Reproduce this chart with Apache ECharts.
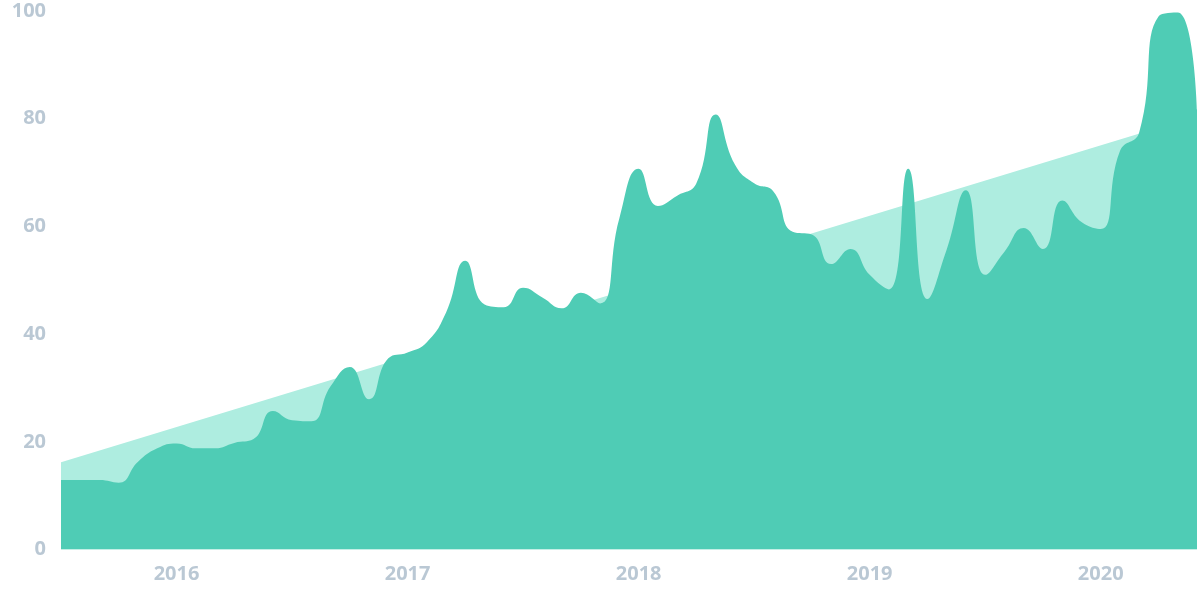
<!DOCTYPE html>
<html>
<head>
<meta charset="utf-8">
<style>
  html, body { margin: 0; padding: 0; background: #fff; }
  #box { width: 1200px; height: 600px; }
</style>
<script src="https://cdn.jsdelivr.net/npm/echarts@6/dist/echarts.min.js"></script>
</head>
<body>
<div id="box"></div>
<script>
  // monthly points, Jul 2015 .. Jun 2020
  const months = [
    '2015-07', '2015-08', '2015-09', '2015-10', '2015-11', '2015-12',
    '2016-01', '2016-02', '2016-03', '2016-04', '2016-05', '2016-06',
    '2016-07', '2016-08', '2016-09', '2016-10', '2016-11', '2016-12',
    '2017-01', '2017-02', '2017-03', '2017-04', '2017-05', '2017-06',
    '2017-07', '2017-08', '2017-09', '2017-10', '2017-11', '2017-12',
    '2018-01', '2018-02', '2018-03', '2018-04', '2018-05', '2018-06',
    '2018-07', '2018-08', '2018-09', '2018-10', '2018-11', '2018-12',
    '2019-01', '2019-02', '2019-03', '2019-04', '2019-05', '2019-06',
    '2019-07', '2019-08', '2019-09', '2019-10', '2019-11', '2019-12',
    '2020-01', '2020-02', '2020-03', '2020-04', '2020-05', '2020-06',
  ];

  const values = [
    12.9, 12.9, 12.9, 12.4, 16.3, 18.8,
    19.7, 18.8, 18.8, 19.8, 20.5, 25.7,
    24.0, 23.8, 30.3, 33.9, 27.9, 35.5,
    36.6, 38.5, 44.0, 53.6, 45.5, 45.0,
    48.6, 46.8, 44.8, 47.7, 45.7, 61.5,
    70.7, 63.8, 65.7, 68.0, 80.8, 71.5,
    68.0, 66.5, 59.0, 58.5, 53.0, 55.8,
    51.0, 48.3, 70.7, 46.5, 55.7, 66.7,
    51.0, 55.3, 59.7, 55.8, 64.8, 60.8,
    59.5, 74.0, 77.5, 99.0, 99.7, 81.7,
  ];

  // straight trend line, first and last month
  const trend = [
    ['2015-07', 16.2],
    ['2020-06', 80.5],
  ];

  const yTicks = [0, 20, 40, 60, 80, 100];

  const labelStyle = {
    color: '#bac8d4',
    fontFamily: 'Open Sans',
    fontWeight: 'bold',
    fontSize: 20,
  };

  const chart = echarts.init(document.getElementById('box'), null, { renderer: 'canvas' });
  chart.setOption({
    animation: false,
    grid: { left: 61, right: 3, top: 11, bottom: 50.5, containLabel: false },
    xAxis: {
      type: 'category',
      data: months,
      boundaryGap: false,
      axisLine: { show: false },
      axisTick: { show: false },
      splitLine: { show: false },
      axisLabel: {
        ...labelStyle,
        margin: 15,
        interval: (idx, val) => val.endsWith('-01'),
        formatter: (val) => val.slice(0, 4),
      },
    },
    yAxis: {
      type: 'value',
      min: yTicks[0],
      max: yTicks[yTicks.length - 1],
      interval: 20,
      axisLine: { show: false },
      axisTick: { show: false },
      splitLine: { show: false },
      axisLabel: { ...labelStyle, margin: 15 },
    },
    series: [
      {
        name: 'trend',
        type: 'line',
        data: trend,
        showSymbol: false,
        lineStyle: { width: 0 },
        areaStyle: { color: '#aeede0', opacity: 1 },
        z: 1,
      },
      {
        name: 'value',
        type: 'line',
        data: values,
        smooth: 0.5,
        showSymbol: false,
        lineStyle: { width: 0 },
        areaStyle: { color: '#4fccb5', opacity: 1 },
        z: 2,
      },
    ],
  });
</script>
</body>
</html>
